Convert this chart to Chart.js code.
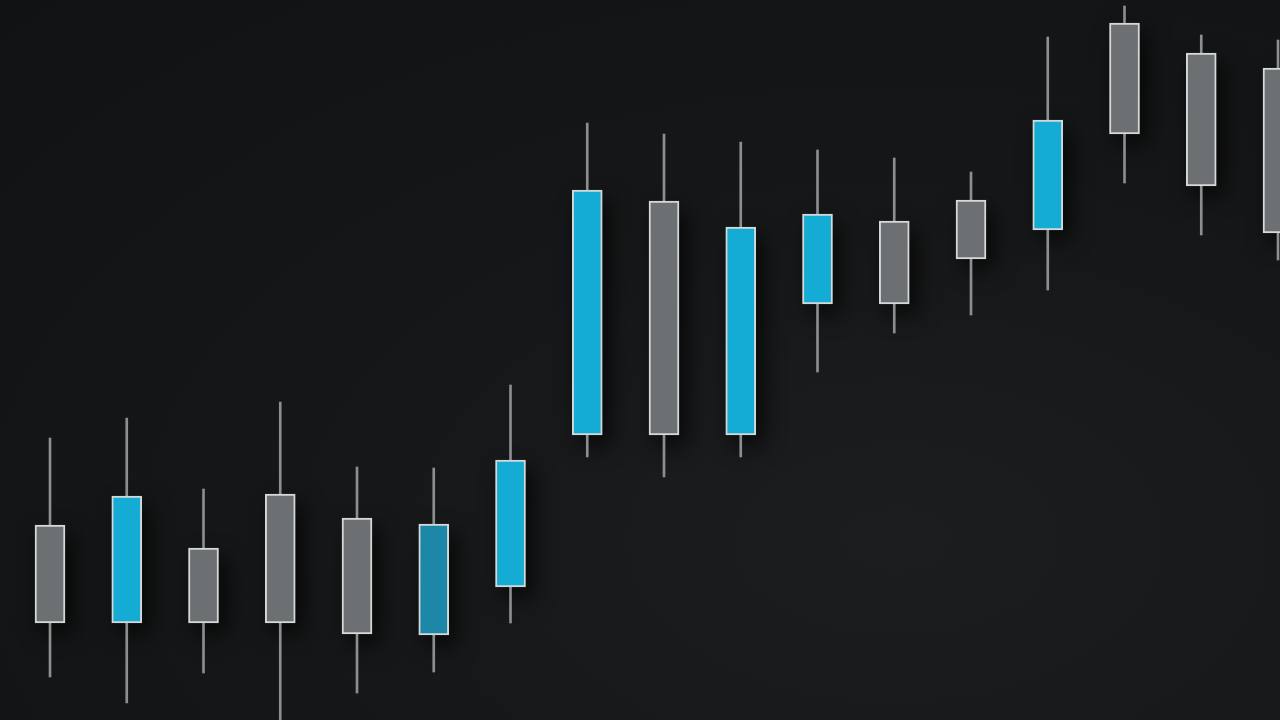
<!DOCTYPE html>
<html>
<head>
<meta charset="utf-8">
<style>
  html, body { margin: 0; padding: 0; }
  body {
    width: 1280px; height: 720px; overflow: hidden;
    background: radial-gradient(ellipse at 70% 75%, #1c1d1f 0%, #161718 45%, #111213 100%);
  }
  #wrap { position: relative; width: 1280px; height: 720px; }
</style>
<script src="https://cdn.jsdelivr.net/npm/chart.js@4.4.1/dist/chart.umd.min.js"></script>
</head>
<body>
<div id="wrap"><canvas id="candles"></canvas></div>
<script>
// sessions shown, left to right (last one is cut by the frame)
const sessions = ['S1', 'S2', 'S3', 'S4', 'S5', 'S6', 'S7', 'S8', 'S9', 'S10', 'S11', 'S12', 'S13', 'S14', 'S15', 'S16', 'S17'];

// OHLC values
const opens  = [19.5,  9.7, 17.2, 22.6, 20.2,  8.5, 13.3, 28.5, 51.9, 28.5, 41.6, 49.9, 52.0, 49.0, 69.7, 66.7, 65.2];
const closes = [ 9.7, 22.4,  9.7,  9.7,  8.6, 19.6, 26.0, 53.0, 28.5, 49.3, 50.6, 41.6, 46.1, 60.0, 58.6, 53.4, 48.7];
const highs  = [28.2, 30.2, 23.1, 31.8, 25.3, 25.2, 33.5, 59.7, 58.6, 57.8, 57.0, 56.2, 54.8, 68.3, 71.4, 68.5, 68.0];
const lows   = [ 4.3,  1.7,  4.7, -0.5,  2.7,  4.8,  9.7, 26.3, 24.3, 26.3, 34.8, 38.7, 40.5, 43.0, 53.7, 48.5, 46.0];

const UP = '#14abd5';
const UP_DIM = '#1d87a8';
const DOWN = '#6c7072';
const EDGE = '#d3d8d9';
const WICK = '#8b8f91';

const bodyData = sessions.map((s, i) => ({ x: i, y: [opens[i], closes[i]] }));
const wickData = sessions.map((s, i) => ({ x: i, y: [lows[i], highs[i]] }));

// soft drop shadow under each body
const bodyShadow = {
    id: 'bodyShadow',
    beforeDatasetsDraw(chart) {
        const meta = chart.getDatasetMeta(1);
        const ctx = chart.ctx;
        ctx.save();
        ctx.shadowColor = 'rgba(0,0,0,0.75)';
        ctx.shadowBlur = 22;
        ctx.shadowOffsetX = 7;
        ctx.shadowOffsetY = 10;
        ctx.fillStyle = '#0e0f10';
        meta.data.forEach(bar => {
            const p = bar.getProps(['x', 'y', 'base', 'width'], true);
            const top = Math.min(p.y, p.base);
            const h = Math.abs(p.base - p.y);
            ctx.fillRect(p.x - p.width / 2, top, p.width, h);
        });
        ctx.restore();
    }
};

const canvas = document.getElementById('candles');
canvas.width = 1280;
canvas.height = 720;

new Chart(canvas, {
    type: 'bar',
    data: {
        labels: sessions,
        datasets: [
            {
                label: 'wick',
                data: wickData,
                backgroundColor: WICK,
                borderWidth: 0,
                barThickness: 2,
                grouped: false,
                order: 2
            },
            {
                label: 'body',
                data: bodyData,
                backgroundColor: ctx => {
                    const i = ctx.dataIndex;
                    if (closes[i] > opens[i]) return i === 5 ? UP_DIM : UP;
                    return DOWN;
                },
                borderColor: EDGE,
                borderWidth: 2,
                borderSkipped: false,
                barThickness: 30,
                grouped: false,
                order: 1
            }
        ]
    },
    options: {
        responsive: false,
        animation: false,
        layout: { padding: 0 },
        plugins: {
            legend: { display: false },
            tooltip: { enabled: false }
        },
        scales: {
            x: { type: 'linear', min: -0.6515, max: 16.026, offset: false, display: false },
            y: { min: 0, max: 72, display: false }
        }
    },
    plugins: [bodyShadow]
});
</script>
</body>
</html>
